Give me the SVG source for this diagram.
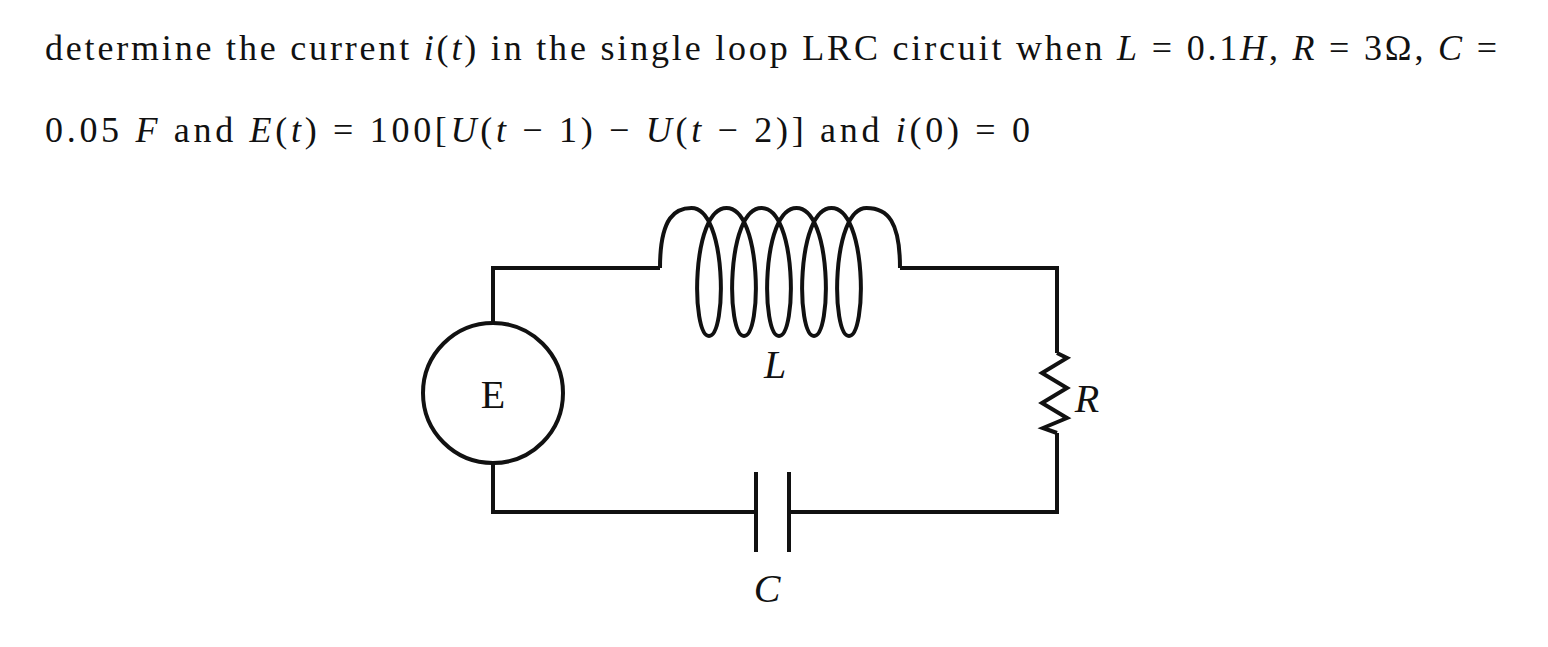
<svg xmlns="http://www.w3.org/2000/svg" width="1548" height="647" viewBox="0 0 1548 647">
<style>
.w{fill:none;stroke:#111;stroke-width:4;stroke-linejoin:miter}
.t{font-family:"Liberation Serif","DejaVu Serif",serif;font-size:36px;fill:#111}
.m{font-style:italic}
.lbl{font-family:"Liberation Serif",serif;font-size:40px;fill:#111}
</style>
<rect width="1548" height="647" fill="#fff"/>
<text class="t" x="45" y="60" textLength="1452" lengthAdjust="spacing">determine the current <tspan class="m">i</tspan>(<tspan class="m">t</tspan>) in the single loop LRC circuit when <tspan class="m">L</tspan> = 0.1<tspan class="m">H</tspan>, <tspan class="m">R</tspan> = 3Ω, <tspan class="m">C</tspan> =</text>
<text class="t" x="45" y="142" textLength="985" lengthAdjust="spacing">0.05 <tspan class="m">F</tspan>  and  <tspan class="m">E</tspan>(<tspan class="m">t</tspan>) = 100[<tspan class="m">U</tspan>(<tspan class="m">t</tspan> − 1) − <tspan class="m">U</tspan>(<tspan class="m">t</tspan> − 2)]  and  <tspan class="m">i</tspan>(0) = 0</text>
<g id="connectors">
<path class="w" d="M493,323 V268 H660"/>
<path class="w" d="M900,268 H1057 V353"/>
<path class="w" d="M1057,433 V512 H789"/>
<path class="w" d="M756,512 H493 V463"/>
</g>
<g id="source">
<circle class="w" cx="493" cy="393" r="70"/>
<text class="lbl" x="493" y="408" text-anchor="middle">E</text>
</g>
<g id="inductor">
<path class="w" d="M660,268 C660,216 676,208 691.5,208 C727,208 727,336 709,336 C691,336 691,208 726.5,208 C762,208 762,336 744,336 C726,336 726,208 761.5,208 C797,208 797,336 779,336 C761,336 761,208 796.5,208 C832,208 832,336 814,336 C796,336 796,208 831.5,208 C867,208 867,336 849,336 C831,336 831,208 866.5,208 C888,208 900,222 900,268"/>
<text class="lbl m" x="775" y="378" text-anchor="middle">L</text>
</g>
<g id="resistor">
<path class="w" d="M1057,353 L1067,358 L1042,373 L1067,388 L1042,403 L1067,418 L1043,428 L1057,433"/>
<text class="lbl m" x="1087" y="412" text-anchor="middle">R</text>
</g>
<g id="capacitor">
<line class="w" x1="756" y1="472" x2="756" y2="552"/>
<line class="w" x1="789" y1="472" x2="789" y2="552"/>
<text class="lbl m" x="767" y="602" text-anchor="middle">C</text>
</g>
</svg>
